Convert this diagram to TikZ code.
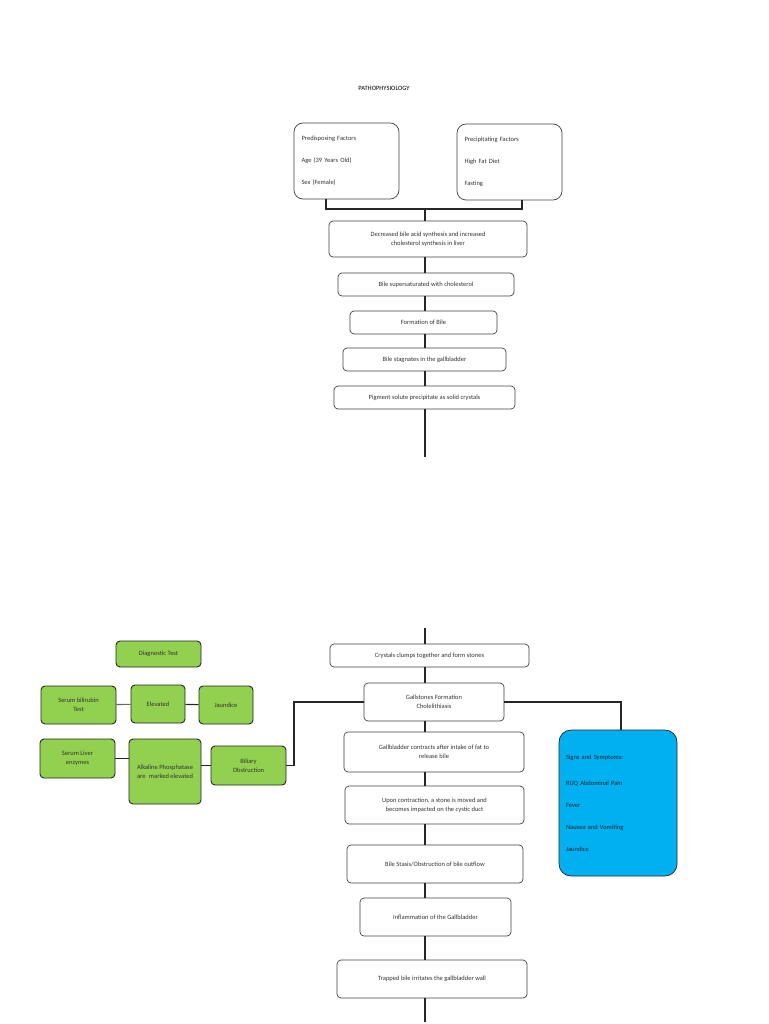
\documentclass[tikz,border=0pt]{standalone}
\usepackage{fontspec}
\setmainfont{Carlito}
\begin{document}
\begin{tikzpicture}[x=1pt,y=-1pt,
  box/.style={draw=black!75,rounded corners=4pt,line width=0.7pt,align=center,font=\fontsize{6.5}{9}\selectfont,text=black!80,inner sep=1pt},
  gbox/.style={box,fill={rgb,255:red,146;green,208;blue,80},draw=black!85,line width=0.9pt,font=\fontsize{6.5}{9}\selectfont},
  ln/.style={draw=black!85,line width=1.1pt}]
\useasboundingbox (0,0) rectangle (768,1024);
\node[font=\fontsize{6.5}{8}\selectfont] (title) at (384,88) {PATHOPHYSIOLOGY};
\node[box,rounded corners=9pt,minimum width=105pt,minimum height=76pt,align=left,text width=90pt,font=\fontsize{6.5}{22}\selectfont] (pre) at (346.5,161) {Predisposing Factors\\Age (39 Years Old)\\Sex (Female)};
\node[box,rounded corners=9pt,minimum width=105pt,minimum height=76pt,align=left,text width=90pt,font=\fontsize{6.5}{22}\selectfont] (prec) at (509.5,162) {Precipitating Factors\\High Fat Diet\\Fasting};
\node[box,minimum width=198pt,minimum height=36pt] (dec) at (428,239) {Decreased bile acid synthesis and increased\\cholesterol synthesis in liver};
\node[box,minimum width=176pt,minimum height=23pt] (sup) at (426,284.5) {Bile supersaturated with cholesterol};
\node[box,minimum width=147pt,minimum height=23pt] (form) at (423.5,322.5) {Formation of Bile};
\node[box,minimum width=163pt,minimum height=23pt] (stag) at (424.5,359.5) {Bile stagnates in the gallbladder};
\node[box,minimum width=181pt,minimum height=23pt] (pig) at (424.5,397.5) {Pigment solute precipitate as solid crystals};
\coordinate (pend) at (425,457);
\coordinate (ctop) at (425,628);
\coordinate (j) at (425,209);
\draw[ln] (pre.south -| 326,0) |- (j) -| (prec.south -| 522,0);
\draw[ln] (j) -- (dec.north -| j);
\draw[ln] (dec.south -| j) -- (sup.north -| j);
\draw[ln] (sup.south -| j) -- (form.north -| j);
\draw[ln] (form.south -| j) -- (stag.north -| j);
\draw[ln] (stag.south -| j) -- (pig.north -| j);
\draw[ln] (pig.south -| j) -- (pend);

\node[box,minimum width=199pt,minimum height=23pt] (cry) at (429.5,655.5) {Crystals clumps together and form stones};
\node[box,minimum width=140pt,minimum height=38pt] (gall) at (434,702) {Gallstones Formation\\Cholelithiasis};
\node[box,minimum width=180pt,minimum height=40pt] (con) at (434,752) {Gallbladder contracts after intake of fat to\\release bile};
\node[box,minimum width=179pt,minimum height=38pt] (upon) at (434.5,805) {Upon contraction, a stone is moved and\\becomes impacted on the cystic duct};
\node[box,minimum width=176pt,minimum height=38pt] (stas) at (435,864) {Bile Stasis/Obstruction of bile outflow};
\node[box,minimum width=151pt,minimum height=38pt] (inf) at (435.5,917) {Inflammation of the Gallbladder};
\node[box,minimum width=190pt,minimum height=38pt] (trap) at (432,979) {Trapped bile irritates the gallbladder wall};
\coordinate (bend) at (425,1022);
\draw[ln] (ctop) -- (cry.north -| ctop);
\draw[ln] (cry.south -| ctop) -- (gall.north -| ctop);
\draw[ln] (gall.south -| ctop) -- (con.north -| ctop);
\draw[ln] (con.south -| ctop) -- (upon.north -| ctop);
\draw[ln] (upon.south -| ctop) -- (stas.north -| ctop);
\draw[ln] (stas.south -| ctop) -- (inf.north -| ctop);
\draw[ln] (inf.south -| ctop) -- (trap.north -| ctop);
\draw[ln] (trap.south -| ctop) -- (bend);

\node[box,fill={rgb,255:red,0;green,176;blue,240},draw=black!85,rounded corners=12pt,minimum width=118pt,minimum height=146pt,text width=104pt,align=left,font=\fontsize{6.5}{22}\selectfont,text=black!85] (sig) at (618,803) {Signs and Symptoms:\\[4pt]RUQ Abdominal Pain\\Fever\\Nausea and Vomiting\\Jaundice};
\draw[ln] (gall.east) -| (sig.north -| 621,0);

\node[gbox,minimum width=85pt,minimum height=26pt] (diag) at (158.5,654) {Diagnostic Test};
\node[gbox,minimum width=75pt,minimum height=38pt] (sb) at (78.5,705) {Serum bilirubin\\Test};
\node[gbox,minimum width=54pt,minimum height=38pt] (el) at (158,704) {Elevated};
\node[gbox,minimum width=54pt,minimum height=38pt] (jau) at (226,705) {Jaundice};
\node[gbox,minimum width=75pt,minimum height=39pt] (sl) at (77.5,758.5) {Serum Liver\\enzymes};
\node[gbox,minimum width=72pt,minimum height=65pt,text width=56pt,align=justify] (alk) at (165,771.5) {Alkaline Phosphatase are\hfill marked elevated};
\node[gbox,minimum width=75pt,minimum height=39pt] (bil) at (248.5,765.5) {Biliary\\Obstruction};
\draw[ln,draw=black!60] (sb) -- (el);
\draw[ln] (el) -- (jau);
\draw[ln] (sl) -- (alk.west |- sl);
\draw[ln] (alk.east |- bil) -- (bil);
\draw[ln] (gall.west) -| (294,0 |- bil.east) -- (bil.east);
\end{tikzpicture}
\end{document}
